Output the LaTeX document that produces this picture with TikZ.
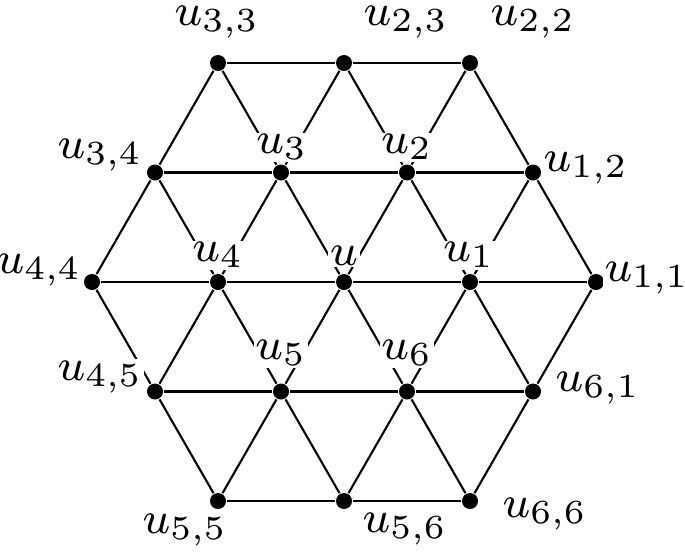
\documentclass[tikz,border=0pt]{standalone}
\tikzset{
  dot/.style={circle, fill, inner sep=0pt, minimum size=0.16cm},
  lbl/.style={fill=white, inner sep=0.3pt, font=\footnotesize, scale=1.6},
}
\begin{document}
\begin{tikzpicture}[x=0.01cm, y=-0.01cm, line width=0.6pt]
\useasboundingbox (0,0) rectangle (685,551);
% vertices, row by row
\node[dot] (u33) at (218,63) {};
\node[dot] (u23) at (344,63) {};
\node[dot] (u22) at (470,63) {};
\node[dot] (u34) at (155,172.5) {};
\node[dot] (u3) at (281,172.5) {};
\node[dot] (u2) at (407,172.5) {};
\node[dot] (u12) at (533,172.5) {};
\node[dot] (u44) at (92,282) {};
\node[dot] (u4) at (218,282) {};
\node[dot] (u) at (344,282) {};
\node[dot] (u1) at (470,282) {};
\node[dot] (u11) at (596,282) {};
\node[dot] (u45) at (155,391.5) {};
\node[dot] (u5) at (281,391.5) {};
\node[dot] (u6) at (407,391.5) {};
\node[dot] (u61) at (533,391.5) {};
\node[dot] (u55) at (218,501) {};
\node[dot] (u56) at (344,501) {};
\node[dot] (u66) at (470,501) {};
% horizontal edges
\foreach \a/\b in {u33/u23, u23/u22, u34/u3, u3/u2, u2/u12,
  u44/u4, u4/u, u/u1, u1/u11, u45/u5, u5/u6, u6/u61, u55/u56, u56/u66}
  \draw (\a) -- (\b);
% slanted edges
\foreach \a/\b in {u33/u34, u33/u3, u23/u3, u23/u2, u22/u2, u22/u12,
  u34/u44, u34/u4, u3/u4, u3/u, u2/u, u2/u1, u12/u1, u12/u11,
  u44/u45, u4/u45, u4/u5, u/u5, u/u6, u1/u6, u1/u61, u11/u61,
  u45/u55, u5/u55, u5/u56, u6/u56, u6/u66, u61/u66}
  \draw (\a) -- (\b);
% labels
\node[lbl] (l33) at (217,22) {$u_{3,3}$};
\node[lbl] (l23) at (406,22) {$u_{2,3}$};
\node[lbl] (l22) at (533,22) {$u_{2,2}$};
\node[lbl] (l34) at (100,155) {$u_{3,4}$};
\node[lbl] (l3) at (282,147) {$u_3$};
\node[lbl] (l2) at (407,147) {$u_2$};
\node[lbl] (l12) at (586,168) {$u_{1,2}$};
\node[lbl] (l44) at (39,270) {$u_{4,4}$};
\node[lbl] (l4) at (218,255) {$u_4$};
\node[lbl] (lu) at (344,256) {$u$};
\node[lbl] (l1) at (469,255) {$u_1$};
\node[lbl] (l11) at (647,278) {$u_{1,1}$};
\node[lbl] (l45) at (100,377) {$u_{4,5}$};
\node[lbl] (l5) at (281,353) {$u_5$};
\node[lbl] (l6) at (407,353) {$u_6$};
\node[lbl] (l61) at (598,388) {$u_{6,1}$};
\node[lbl] (l55) at (185,530) {$u_{5,5}$};
\node[lbl] (l56) at (405,529) {$u_{5,6}$};
\node[lbl] (l66) at (545,514) {$u_{6,6}$};
\end{tikzpicture}
\end{document}
